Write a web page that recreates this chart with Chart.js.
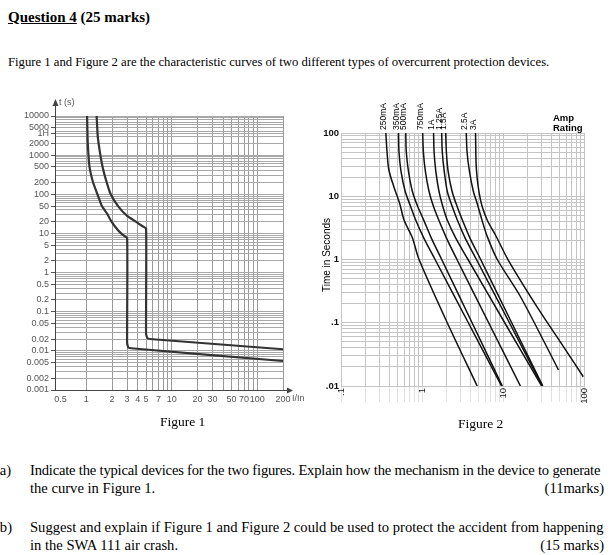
<!DOCTYPE html>
<html>
<head>
<meta charset="utf-8">
<script src="https://cdn.jsdelivr.net/npm/chart.js@4.4.0/dist/chart.umd.min.js"></script>
<style>
  html, body { margin: 0; padding: 0; background: #fff; }
  body { width: 616px; height: 555px; position: relative; overflow: hidden;
         font-family: "Liberation Serif", "Times New Roman", serif; color: #000; }
  .t { position: absolute; white-space: nowrap; }
  .q { font-size: 14.6px; line-height: 16px; }
  .wrap { position: absolute; }
</style>
</head>
<body>

<div class="t" style="left:8px;top:9px;font-size:15px;line-height:17px;font-weight:bold"><u>Question 4</u> (25 marks)</div>
<div class="t" style="left:8px;top:55px;font-size:12.7px;line-height:14px">Figure 1 and Figure 2 are the characteristic curves of two different types of overcurrent protection devices.</div>

<div class="wrap" style="left:0;top:95px;width:310px;height:320px"><canvas id="fig1"></canvas></div>
<div class="wrap" style="left:300px;top:95px;width:316px;height:330px"><canvas id="fig2"></canvas></div>

<div class="t" style="left:160px;top:414px;font-size:13.5px;line-height:16px">Figure 1</div>
<div class="t" style="left:458px;top:416px;font-size:13.5px;line-height:16px">Figure 2</div>

<div class="t q" style="left:-5px;top:462px">(a)</div>
<div class="t q" style="left:30px;top:462px;letter-spacing:-0.2px">Indicate the typical devices for the two figures. Explain how the mechanism in the device to generate</div>
<div class="t q" style="left:30px;top:480px">the curve in Figure 1.</div>
<div class="t q" style="right:12px;top:480px">(11marks)</div>

<div class="t q" style="left:-5px;top:519px">(b)</div>
<div class="t q" style="left:30px;top:519px">Suggest and explain if Figure 1 and Figure 2 could be used to protect the accident from happening</div>
<div class="t q" style="left:30px;top:537px">in the SWA 111 air crash.</div>
<div class="t q" style="right:12px;top:537px">(15 marks)</div>

<script>
// ---- Figure 1: breaker tripping curves, t (s) against I/In ----
const fig1XLabelValues = [0.5, 1, 2, 3, 4, 5, 7, 10, 20, 30, 50, 70, 100, 200];
const fig1XLabels = ['0.5', '1', '2', '3', '4', '5', '7', '10', '20', '30', '50', '70', '100', '200'];
const fig1YLabelValues = [10000, 5000, 3600, 2000, 1000, 500, 200, 100, 50, 20, 10, 5, 2, 1,
                          0.5, 0.2, 0.1, 0.05, 0.02, 0.01, 0.005, 0.002, 0.001];
const fig1YLabels = ['10000', '5000', '1H', '2000', '1000', '500', '200', '100', '50', '20', '10', '5', '2', '1',
                     '0.5', '0.2', '0.1', '0.05', '0.02', '0.01', '0.005', '0.002', '0.001'];

// lower limit curve (magnetic trip at 3 x In)
const curveLow = [[1.02, 10000], [1.04, 2000], [1.09, 500], [1.2, 200], [1.35, 100], [1.52, 50], [1.75, 32],
                  [1.97, 20], [2.35, 12], [2.65, 9.3], [3, 7.5], [3, 0.016], [3.1, 0.0122], [3.6, 0.0115], [200, 0.0055]];
// upper limit curve (magnetic trip at 5 x In)
const curveHigh = [[1.32, 10000], [1.36, 3000], [1.46, 1000], [1.55, 500], [1.71, 220], [1.93, 100], [2.35, 50],
                   [3.0, 28], [3.8, 20], [4.5, 15.5], [5, 13.3], [5, 0.027], [5.2, 0.021], [6, 0.0198], [200, 0.011]];

// ---- Figure 2: fuse curves, time in seconds against current ----
const fig2XLabelValues = [0.1, 1, 10, 100];
const fig2XLabels = ['.1', '1', '10', '100'];
const fig2YLabelValues = [100, 10, 1, 0.1, 0.01];
const fig2YLabels = ['100', '10', '1', '.1', '.01'];
const ampRatings = ['250mA', '350mA', '500mA', '750mA', '1A', '1.25A', '1.5A', '2.5A', '3A'];

const fuse250mA = [[0.358, 100], [0.37, 50], [0.39, 26], [0.45, 14], [0.53, 7.7], [0.6, 4.2], [0.76, 2.2], [0.92, 1], [2.05, 0.1], [4.8, 0.01]];
const fuse350mA = [[0.513, 100], [0.52, 50], [0.55, 25], [0.62, 12], [0.72, 7], [0.836, 4.2], [1.05, 2.2], [1.45, 1], [3.73, 0.1], [9.6, 0.01]];
const fuse500mA = [[0.63, 100], [0.64, 50], [0.68, 25], [0.76, 12], [0.88, 7], [1.05, 4.2], [1.3, 2.2], [1.75, 1], [4.15, 0.1], [9.8, 0.01]];
const fuse750mA = [[1.02, 100], [1.04, 50], [1.1, 25], [1.22, 12], [1.38, 7], [1.61, 4.2], [2.0, 2.2], [2.7, 1], [6.65, 0.1], [16.4, 0.01]];
const fuse1A    = [[1.39, 100], [1.41, 50], [1.48, 25], [1.62, 12], [1.8, 7], [2.05, 4.2], [2.6, 2.2], [3.7, 1], [10.5, 0.1], [30, 0.01]];
const fuse1_25A = [[1.75, 100], [1.78, 50], [1.88, 25], [2.05, 12], [2.35, 7], [2.73, 4.2], [3.4, 2.2], [4.7, 1], [12, 0.1], [30.5, 0.01]];
const fuse1_5A  = [[1.96, 100], [2.0, 50], [2.1, 25], [2.35, 12], [2.7, 7], [3.15, 4.2], [3.9, 2.2], [5.3, 1], [12.8, 0.1], [31, 0.01]];
const fuse2_5A  = [[3.52, 100], [3.6, 50], [3.85, 25], [4.3, 12], [4.8, 7.7], [5.5, 4.2], [6.4, 2.3], [8.5, 1], [16.4, 0.26], [48.4, 0.018]];
const fuse3A    = [[4.58, 100], [4.7, 26], [5.28, 8.7], [6.38, 4.2], [8.07, 2.44], [11.6, 0.98], [26.2, 0.18], [55.7, 0.042], [98, 0.014]];
const fuseCurves = [fuse250mA, fuse350mA, fuse500mA, fuse750mA, fuse1A, fuse1_25A, fuse1_5A, fuse2_5A, fuse3A];

// grid helpers
function logGrid(minExp, maxExp, mults) {
    const out = [];
    for (let e = minExp; e <= maxExp; e++) {
        mults.forEach(m => out.push(+(m * Math.pow(10, e)).toPrecision(6)));
    }
    return out;
}
const same = (a, b) => Math.abs(a - b) <= Math.abs(b) * 1e-6;
function labelFor(values, labels, v) {
    const i = values.findIndex(u => same(u, v));
    return i < 0 ? '' : labels[i];
}
const toPoints = arr => arr.map(p => ({ x: p[0], y: p[1] }));
const NINE = [1, 2, 3, 4, 5, 6, 7, 8, 9];

const fig1XGrid = [0.5].concat(logGrid(0, 1, NINE), [100, 200]);
const fig1YGrid = logGrid(-3, 3, NINE).concat([3600, 10000]).sort((a, b) => a - b);
const fig2XGrid = logGrid(-1, 1, NINE).concat([100]);
const fig2YGrid = logGrid(-2, 1, NINE).concat([100]);

Chart.defaults.font.family = '"Liberation Sans", Arial, sans-serif';
Chart.defaults.animation = false;

// ---------- Figure 1 ----------
const fig1Deco = {
    id: 'fig1Deco',
    afterDraw(chart) {
        const { ctx, chartArea: a } = chart;
        ctx.save();
        ctx.strokeStyle = '#444';
        ctx.fillStyle = '#444';
        ctx.lineWidth = 1;
        ctx.beginPath();
        ctx.moveTo(a.left + 0.5, a.top);
        ctx.lineTo(a.left + 0.5, a.top - 12);
        ctx.moveTo(a.right, a.bottom + 0.5);
        ctx.lineTo(a.right + 5, a.bottom + 0.5);
        ctx.stroke();
        ctx.beginPath();
        ctx.moveTo(a.left + 0.5, a.top - 17);
        ctx.lineTo(a.left - 2.5, a.top - 10);
        ctx.lineTo(a.left + 3.5, a.top - 10);
        ctx.closePath();
        ctx.fill();
        ctx.beginPath();
        ctx.moveTo(a.right + 10, a.bottom + 0.5);
        ctx.lineTo(a.right + 4, a.bottom - 2.5);
        ctx.lineTo(a.right + 4, a.bottom + 3.5);
        ctx.closePath();
        ctx.fill();
        ctx.font = '9px "Liberation Sans", Arial, sans-serif';
        ctx.fillStyle = '#555';
        ctx.textBaseline = 'middle';
        ctx.fillText('t (s)', a.left + 4, a.top - 13);
        ctx.fillText('I/In', a.right + 9, a.bottom + 9);
        ctx.restore();
    }
};

new Chart(document.getElementById('fig1'), {
    type: 'line',
    data: {
        datasets: [
            { data: toPoints(curveLow), borderColor: '#333', borderWidth: 2.2, pointRadius: 0, tension: 0.15, fill: false },
            { data: toPoints(curveHigh), borderColor: '#333', borderWidth: 2.2, pointRadius: 0, tension: 0.15, fill: false }
        ]
    },
    options: {
        responsive: true,
        maintainAspectRatio: false,
        layout: { padding: { top: 21, right: 27, left: 0, bottom: 0 } },
        plugins: { legend: { display: false }, tooltip: { enabled: false } },
        scales: {
            x: {
                type: 'logarithmic',
                min: 0.43,
                max: 200,
                afterBuildTicks: s => { s.ticks = fig1XGrid.map(v => ({ value: v })); },
                afterFit: s => { s.height = 25; },
                border: { display: true, color: '#444', width: 1 },
                grid: {
                    color: c => (c.tick && same(c.tick.value, 0.5)) ? 'rgba(0,0,0,0)' : '#9a9a9a',
                    lineWidth: 1,
                    drawTicks: false
                },
                ticks: {
                    autoSkip: false, maxRotation: 0, padding: 4,
                    color: '#555', font: { size: 9 },
                    callback: v => labelFor(fig1XLabelValues, fig1XLabels, v)
                }
            },
            y: {
                type: 'logarithmic',
                min: 0.001,
                max: 10000,
                afterBuildTicks: s => { s.ticks = fig1YGrid.map(v => ({ value: v })); },
                afterFit: s => { s.width = 55; },
                border: { display: true, color: '#444', width: 1 },
                grid: {
                    color: '#a8a8a8',
                    lineWidth: 1,
                    drawTicks: true,
                    tickLength: 4,
                    tickColor: c => (c.tick && labelFor(fig1YLabelValues, fig1YLabels, c.tick.value)) ? '#555' : 'rgba(0,0,0,0)'
                },
                ticks: {
                    autoSkip: false, padding: 2,
                    color: '#555', font: { size: 9 },
                    callback: v => labelFor(fig1YLabelValues, fig1YLabels, v)
                }
            }
        }
    },
    plugins: [fig1Deco]
});

// ---------- Figure 2 ----------
const fig2Deco = {
    id: 'fig2Deco',
    afterDraw(chart) {
        const { ctx, chartArea: a, scales } = chart;
        ctx.save();
        ctx.fillStyle = '#000';
        ctx.font = '8.5px "Liberation Sans", Arial, sans-serif';
        ctx.textBaseline = 'middle';
        ctx.textAlign = 'left';
        ampRatings.forEach((label, i) => {
            const x = scales.x.getPixelForValue(fuseCurves[i][0][0]) - 2;
            ctx.save();
            ctx.translate(x, a.top - 3);
            ctx.rotate(-Math.PI / 2);
            ctx.fillText(label, 0, 0);
            ctx.restore();
        });
        ctx.font = 'bold 9.5px "Liberation Sans", Arial, sans-serif';
        ctx.fillText('Amp', 253, 23);
        ctx.fillText('Rating', 253, 33);
        ctx.font = '10px "Liberation Sans", Arial, sans-serif';
        ctx.textAlign = 'center';
        ctx.save();
        ctx.translate(27, 160);
        ctx.rotate(-Math.PI / 2);
        ctx.fillText('Time in Seconds', 0, 0);
        ctx.restore();
        ctx.restore();
    }
};

new Chart(document.getElementById('fig2'), {
    type: 'line',
    data: {
        datasets: fuseCurves.map(c => ({
            data: toPoints(c), borderColor: '#111', borderWidth: 1.5, pointRadius: 0, tension: 0.3, fill: false
        }))
    },
    options: {
        responsive: true,
        maintainAspectRatio: false,
        layout: { padding: { top: 38, right: 32, left: 0, bottom: 0 } },
        plugins: { legend: { display: false }, tooltip: { enabled: false } },
        scales: {
            x: {
                type: 'logarithmic',
                min: 0.1,
                max: 100,
                afterBuildTicks: s => { s.ticks = fig2XGrid.map(v => ({ value: v })); },
                afterFit: s => { s.height = 39; },
                border: { display: true, color: '#c4c4c4', width: 1 },
                grid: { color: '#c4c4c4', lineWidth: 1, drawTicks: true, tickLength: 16, tickColor: '#e0e0e0' },
                ticks: {
                    autoSkip: false, minRotation: 90, maxRotation: 90, padding: -14,
                    color: '#111', font: { size: 9.5 },
                    callback: v => labelFor(fig2XLabelValues, fig2XLabels, v)
                }
            },
            y: {
                type: 'logarithmic',
                min: 0.01,
                max: 100,
                afterBuildTicks: s => { s.ticks = fig2YGrid.map(v => ({ value: v })); },
                afterFit: s => { s.width = 41; },
                border: { display: true, color: '#c4c4c4', width: 1 },
                grid: { color: '#c4c4c4', lineWidth: 1, drawTicks: false },
                ticks: {
                    autoSkip: false, padding: 2,
                    color: '#111', font: { size: 9.5, weight: 'bold' },
                    callback: v => labelFor(fig2YLabelValues, fig2YLabels, v)
                }
            }
        }
    },
    plugins: [fig2Deco]
});
</script>
</body>
</html>
